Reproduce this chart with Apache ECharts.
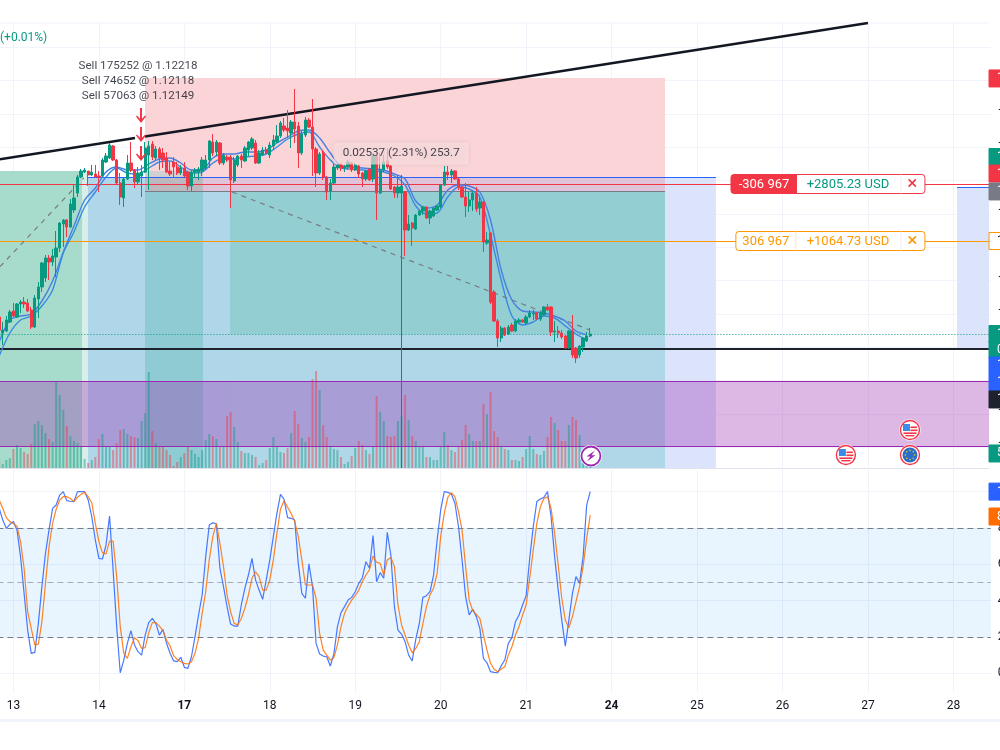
<!DOCTYPE html>
<html>
<head>
<meta charset="utf-8">
<title>EURUSD 1h</title>
<style>
  html, body { margin: 0; padding: 0; background: #fff; overflow: hidden; }
  #chart { width: 1000px; height: 750px; }
</style>
<script src="https://cdn.jsdelivr.net/npm/echarts@6/dist/echarts.min.js"></script>
</head>
<body>
<div id="chart"></div>
<script>
const dayLabels = ['13', '14', '17', '18', '19', '20', '21', '24', '25', '26', '27', '28']
const barsPerDay = 24
const firstDayBar = 4
const barCount = 279

const openPrice = [
  1.09455,1.09215,1.09245,1.0938,1.09545,1.09455,1.0965,1.0968,1.09665,1.0956,
  1.09305,1.09725,1.09905,1.1004,1.1034,1.1028,1.10355,1.1049,1.1085,1.1091,
  1.10805,1.1106,1.11315,1.11555,1.1163,1.11645,1.11585,1.116,1.1157,1.1157,
  1.1178,1.1184,1.1202,1.1181,1.11465,1.1124,1.11525,1.11765,1.1166,1.1148,
  1.1157,1.1163,1.11885,1.1205,1.1184,1.11975,1.11915,1.1184,1.11645,1.1178,
  1.11705,1.11615,1.1169,1.1163,1.1142,1.1163,1.1163,1.11645,1.1169,1.1181,
  1.1208,1.1193,1.12065,1.11765,1.11855,1.11855,1.11495,1.11735,1.1187,1.11795,
  1.1196,1.1199,1.12065,1.11765,1.11885,1.1196,1.11885,1.1202,1.1208,1.1217,
  1.1232,1.1229,1.12215,1.1238,1.1232,1.11915,1.12185,1.1241,1.12305,1.11975,
  1.11615,1.11915,1.11555,1.11345,1.11465,1.1169,1.11735,1.1169,1.11705,1.11765,
  1.1166,1.1172,1.11615,1.11525,1.11675,1.11525,1.1187,1.11315,1.1166,1.11795,
  1.1172,1.11405,1.11315,1.11315,1.1133,1.1076,1.10865,1.10775,1.10985,1.11045,
  1.11105,1.1094,1.1097,1.1106,1.11105,1.11435,1.1163,1.11585,1.11645,1.11525,
  1.11405,1.11255,1.1112,1.1121,1.11315,1.1109,1.1118,1.10565,1.10715,1.0983,
  1.09395,1.0914,1.0929,1.092,1.09335,1.09245,1.0938,1.0941,1.09365,1.09455,
  1.095,1.09515,1.09425,1.09485,1.09605,1.09605,1.0923,1.09245,1.09215,1.0917,
  1.0899,1.09245,1.0899,1.08885,1.09005,1.09095,1.0917
]
const closePrice = [
  1.0926,1.0926,1.0941,1.0953,1.0947,1.0965,1.0968,1.0965,1.09545,1.09305,
  1.0974,1.09905,1.10265,1.1034,1.1028,1.1037,1.1049,1.10865,1.1091,1.10805,
  1.1115,1.1124,1.11555,1.11645,1.1166,1.11585,1.1163,1.11555,1.11555,1.1181,
  1.1187,1.12035,1.1181,1.11465,1.11255,1.11525,1.11765,1.1166,1.1148,1.11615,
  1.1163,1.1199,1.1202,1.11855,1.11975,1.1184,1.1181,1.1163,1.116,1.11705,
  1.11615,1.1169,1.1157,1.1142,1.1163,1.1166,1.11675,1.1181,1.1181,1.12095,
  1.11915,1.1208,1.11765,1.11885,1.1181,1.1151,1.1181,1.1187,1.1181,1.1199,
  1.1208,1.12125,1.11765,1.11915,1.1196,1.11915,1.12035,1.1211,1.1217,1.12365,
  1.1226,1.12245,1.1238,1.12275,1.11915,1.122,1.1241,1.12305,1.11975,1.11615,
  1.119,1.11555,1.1133,1.11465,1.11705,1.11735,1.1169,1.1172,1.1178,1.1166,
  1.11735,1.116,1.11525,1.11645,1.1151,1.1187,1.11315,1.1166,1.1178,1.11705,
  1.11375,1.11315,1.11405,1.1142,1.1076,1.1085,1.1079,1.10985,1.11045,1.11105,
  1.1094,1.11045,1.1109,1.1112,1.11435,1.1163,1.11585,1.11645,1.11525,1.11405,
  1.11255,1.1112,1.1121,1.11315,1.11075,1.1118,1.1058,1.1061,1.0968,1.09395,
  1.0914,1.0929,1.09185,1.09305,1.09245,1.09395,1.0941,1.0938,1.09455,1.09515,
  1.09515,1.09425,1.09515,1.09605,1.0956,1.0923,1.09245,1.09215,1.09155,1.0899,
  1.09245,1.08885,1.0884,1.0902,1.0914,1.0917,1.092
]
const lowPrice = [
  1.0923,1.09035,1.0923,1.09365,1.09455,1.0944,1.09515,1.0959,1.0953,1.09275,
  1.0929,1.0944,1.0983,1.0998,1.1001,1.1022,1.10055,1.1043,1.10505,1.10655,
  1.1079,1.11015,1.11255,1.1154,1.11615,1.1142,1.1157,1.1154,1.1133,1.11555,
  1.11765,1.11825,1.11795,1.1145,1.11135,1.11105,1.1151,1.1163,1.1139,1.1145,
  1.11255,1.11615,1.1136,1.1181,1.1181,1.1166,1.1169,1.11615,1.1157,1.1154,
  1.11585,1.11585,1.11555,1.1136,1.11345,1.1154,1.1151,1.1157,1.1166,1.1169,
  1.1187,1.1187,1.11735,1.11735,1.1178,1.1109,1.11465,1.11705,1.1169,1.1178,
  1.1187,1.1196,1.1175,1.1175,1.1187,1.119,1.1184,1.1196,1.12065,1.1214,
  1.1223,1.1214,1.1199,1.12065,1.1169,1.11885,1.12155,1.1229,1.1157,1.11405,
  1.11585,1.1151,1.1121,1.1121,1.1145,1.1166,1.11645,1.1163,1.1166,1.1163,
  1.11645,1.1154,1.11405,1.11495,1.11495,1.1148,1.1091,1.113,1.1163,1.11675,
  1.1136,1.1124,1.1124,1.11225,1.1037,1.10745,1.1052,1.1076,1.1097,1.10985,
  1.10925,1.1085,1.10955,1.11045,1.1109,1.1142,1.1151,1.11465,1.1151,1.1136,
  1.1124,1.10955,1.1103,1.11045,1.1103,1.10985,1.1043,1.10535,1.0965,1.0938,
  1.09005,1.0908,1.0917,1.09185,1.0923,1.0923,1.09365,1.09365,1.09335,1.0944,
  1.0941,1.0941,1.09395,1.0947,1.09545,1.0917,1.0908,1.0914,1.09125,1.08975,
  1.08975,1.0884,1.08765,1.0884,1.0893,1.0908,1.09155
]
const highPrice = [
  1.0947,1.0938,1.0947,1.0956,1.09665,1.09665,1.0971,1.09755,1.09725,1.09605,
  1.09785,1.0998,1.1028,1.10385,1.10385,1.10475,1.10745,1.1088,1.10925,1.10925,
  1.11225,1.11435,1.11585,1.11675,1.1169,1.11645,1.11735,1.11735,1.11645,1.1184,
  1.11915,1.12065,1.12035,1.11825,1.11615,1.1154,1.11885,1.1208,1.11675,1.11705,
  1.11735,1.1208,1.12095,1.12095,1.1202,1.12005,1.1199,1.1193,1.1178,1.11855,
  1.1178,1.11735,1.1178,1.11645,1.1166,1.1169,1.11705,1.11855,1.11885,1.1211,
  1.122,1.1211,1.1208,1.11915,1.11885,1.11885,1.11855,1.11885,1.119,1.1202,
  1.12095,1.12155,1.1211,1.1196,1.12005,1.12005,1.1208,1.12185,1.12335,1.12395,
  1.1244,1.1256,1.1241,1.12875,1.1238,1.1226,1.12455,1.1244,1.12725,1.12005,
  1.1193,1.1196,1.1157,1.11525,1.1175,1.11765,1.11765,1.11735,1.1181,1.1178,
  1.11765,1.11735,1.1163,1.1166,1.1169,1.11885,1.11885,1.11915,1.11885,1.1199,
  1.11735,1.1142,1.11585,1.11585,1.11345,1.10985,1.1088,1.11,1.1106,1.1112,
  1.1112,1.1106,1.11105,1.11135,1.11435,1.1172,1.1172,1.11675,1.1166,1.1154,
  1.1142,1.11465,1.1133,1.11345,1.11405,1.11255,1.11195,1.1073,1.1073,1.0986,
  1.09425,1.0932,1.09305,1.09335,1.09365,1.09425,1.0944,1.09425,1.09485,1.0956,
  1.0956,1.0953,1.0953,1.0962,1.0965,1.0962,1.09395,1.0932,1.0926,1.09185,
  1.0926,1.09485,1.09005,1.09035,1.09155,1.0923,1.0929
]
const volume = [
  6,4,8,10,19,23,20,16,14,24,
  44,47,43,35,29,26,86,73,58,42,
  32,27,25,21,9,5,8,11,29,34,
  21,21,18,25,38,39,34,32,31,30,
  47,55,96,37,25,21,21,18,13,2,
  6,11,15,21,18,14,11,18,28,34,
  32,29,22,21,52,56,41,26,17,15,
  15,13,11,3,5,8,20,31,21,16,
  15,20,35,57,44,30,26,31,89,97,
  78,43,31,21,19,18,11,4,6,12,
  20,27,23,18,14,21,72,56,47,32,
  31,32,47,52,73,48,32,27,21,21,
  11,11,8,8,21,36,23,18,16,21,
  28,43,34,27,27,27,64,54,76,37,
  31,21,19,18,8,8,7,11,19,32,
  19,14,13,17,31,51,45,38,27,27,
  43,51,48,33,5,4,3
]
// ribbon
const maStep = 3
const maFast = [
  1.0908,1.0941,1.0947,1.095,1.09695,1.09995,1.1043,1.1082,1.1121,1.1139,
  1.1163,1.11705,1.1166,1.1166,1.1175,1.11825,1.1184,1.11765,1.1166,1.1166,
  1.1184,1.119,1.119,1.1193,1.1193,1.1196,1.12065,1.12155,1.12245,1.1226,
  1.1214,1.11915,1.1172,1.11705,1.1169,1.11675,1.1166,1.116,1.11525,1.11195,
  1.1109,1.11135,1.1136,1.11435,1.1142,1.1133,1.1091,1.1016,1.0971,1.09545,
  1.0953,1.09515,1.0947,1.09395,1.09245,1.09185
]
const maSlow = [
  1.0887,1.09215,1.0941,1.0947,1.0962,1.0986,1.10415,1.1073,1.11105,1.1133,
  1.11555,1.1169,1.11615,1.116,1.1169,1.1178,1.11795,1.11705,1.11615,1.1163,
  1.11765,1.1184,1.11825,1.11855,1.1187,1.119,1.12005,1.12125,1.122,1.1223,
  1.12005,1.1181,1.1169,1.11675,1.1166,1.11645,1.1163,1.1157,1.11435,1.1112,
  1.11,1.11015,1.11255,1.11405,1.11375,1.11255,1.10685,1.1001,1.0947,1.09335,
  1.0938,1.0947,1.0944,1.0932,1.092,1.0911
]
const stochK = [
  90.8,84.4,79.8,82,83.5,78.9,64.2,44,23.8,11,
  11.5,27.5,47.7,66,78.9,90.8,92.6,98.1,100,95,
  94.7,94.5,100,100,100,95.4,86.2,73.4,63.3,62.9,
  70.6,86.6,56.8,25.7,0.3,7.3,16.5,23.5,15.6,11.9,
  10,21,27.9,30.2,27.5,21,24.2,16.5,11,6.8,
  6.4,8.8,3.3,2.7,9.1,20.2,32.1,43.1,64.2,81.6,
  82.9,82.2,57.8,47.7,36.7,27.1,26,26,37.6,46.8,
  54.1,63.3,51.4,45.8,40.7,51.4,62.4,75.2,88,98.5,
  95.8,85.7,85.3,84.4,60.5,44,41.3,60.2,47.7,16.5,
  10.6,9.5,9.1,4,10.6,25.7,33.4,36.7,40.3,41.8,
  44.9,49.5,52.6,61.4,57.8,75.8,50.4,55.4,52.3,77.6,
  65.1,36.7,23.8,21.6,17.4,10,6.8,18.7,27.5,41.8,
  42.7,44.9,54.1,73.4,89.9,100,99.6,98.7,93.6,80.7,
  62.4,42.2,32.1,35.2,31.2,24.7,8.2,5.8,0.9,0.5,
  0.3,4.2,7.3,16.5,19.6,28.4,32.1,37.6,42.7,63.3,
  80.7,94.5,95.9,96.9,100,86.2,64.2,45.8,29.3,15,
  29.3,44,53.2,49.5,64.2,92.6,100
]
const stochD = [
  95.4,90.8,85.7,83.5,82.5,81,72.5,57.8,33.9,24.7,
  15.6,16.1,28.4,49.5,69.7,82.5,90.3,95.4,97.2,97.2,
  96.2,94.5,96.9,98.5,99.6,97.2,93.9,82.5,72.5,66.4,
  65.7,72.8,72.8,53.2,25.7,11,8.2,14.6,19.6,18,
  13.7,14.1,22.4,27.9,27.9,26,23.5,18.3,15,9.7,
  7.7,6.4,5.5,5.1,6.4,11,19.2,33,44.9,62.4,
  75.2,82.5,71.5,58.7,43.1,33.9,27.5,26.6,30.2,35.8,
  43.1,52.3,55.9,53.2,45.8,45.8,51.4,62.4,77,90.3,
  95,91.4,88,83.5,75.2,62.4,48.6,48.6,48.6,41.3,
  22,12.8,10,7.3,8.6,15.6,25.7,33,37,40.3,
  42.7,45.8,50.4,54.1,56.9,64.6,61.1,60.5,54.1,62.4,
  63.8,58.7,37.6,26.6,21.1,15.6,11.3,13.7,17.4,27.5,
  36.7,43.1,46.8,55,75.2,88,96.9,99.4,97.2,89,
  78.9,58.7,40.3,34.5,32.4,30.2,21.1,12.8,5.5,2.2,
  0.9,2.4,3.6,10,14.6,21.1,25.7,32.1,37.6,52.3,
  67.9,82.5,91.7,96.3,97.2,90.8,77,59.6,41.3,29.3,
  25.1,31.2,39.4,47.7,58.7,74.3,87.1
]
const priceTicks = { min: 1.07, max: 1.13865, step: 0.005 }
const stochLevels = [80, 50, 20]
const sellFills = ['Sell 175252 @ 1.12218', 'Sell 74652 @ 1.12118', 'Sell 57063 @ 1.12149']
const sellFillPrices = [1.1322, 1.12995, 1.1277]
const arrowPrices = [1.12477, 1.12192, 1.11907]
const measureText = '0.02537 (2.31%) 253.7'

const UP = '#089981'
const DOWN = '#F23645'
const FONT = 'Roboto, "Liberation Sans", sans-serif'
const fullWidth = 278.5

const categories = []
for (let i = 0; i < barCount; i++) {
  categories.push((i - firstDayBar) % barsPerDay === 0 ? dayLabels[(i - firstDayBar) / barsPerDay] : '')
}
const isDayBar = function (i) {
  return (i - firstDayBar) % barsPerDay === 0
}

// box x values are in bars, y values in price
const zones = [
  [0, 1.11645, 23.76, 1.0719, '#A7DCCD'],
  [23.76, 1.11645, 25.44, 1.0719, '#D8EEE9'],
  [25.44, 1.11555, 41.45, 1.0719, '#B0D6E9'],
  [41.45, 1.1304, 187.5, 1.11345, '#FAD4D7'],
  [57.74, 1.11555, 187.5, 1.11345, '#DFC3D9'],
  [41.45, 1.11645, 57.74, 1.11555, '#D2CFD2'],
  [41.45, 1.11555, 57.74, 1.11345, '#BDB8BE'],
  [41.45, 1.11345, 57.74, 1.0719, '#8FCBD3'],
  [57.74, 1.11345, 65.33, 1.0719, '#B0D6E9'],
  [65.33, 1.11345, 187.5, 1.092, '#93CED3'],
  [65.33, 1.092, 187.5, 1.0719, '#B0D7E7'],
  [187.5, 1.11555, 201.8, 1.0719, '#DCE4FB'],
  [269.5, 1.11405, fullWidth, 1.08975, '#DCE4FB'],
  [0, 1.08495, fullWidth, 1.07513, 'rgba(156,39,176,0.33)']
]
const drawings = [
  [25.44, 1.11555, 201.8, 1.11555, '#2962FF', 1],
  [269.5, 1.11405, fullWidth, 1.11405, '#2962FF', 1],
  [0, 1.11443, fullWidth, 1.11443, '#F23645', 1],
  [41.45, 1.11345, 187.5, 1.11345, '#787B86', 1],
  [0, 1.10588, fullWidth, 1.10588, '#FF9800', 1],
  [0, 1.092, fullWidth, 1.092, '#089981', 1, [1, 2]],
  [0, 1.08975, fullWidth, 1.08975, '#1E222D', 2],
  [0, 1.08495, fullWidth, 1.08495, '#9C27B0', 1],
  [0, 1.07513, fullWidth, 1.07513, '#9C27B0', 1],
  [113.4, 1.1157, 113.4, 1.0719, '#2962FF', 1],
  [0.73, 1.11821, 38.64, 1.1214, '#131722', 2.5],
  [41.45, 1.12163, 244.5, 1.13865, '#131722', 2.5],
  [0.73, 1.1021, 24.3, 1.11543, '#787B86', 1.2, [5, 5]],
  [65.9, 1.1133, 166.4, 1.0926, '#787B86', 1.2, [5, 5]]
]
const orderPills = [
  { from: 206.03, to: 260.5, price: 1.11443, size: '-306 967', pnl: '+2805.23 USD', color: '#F23645', pnlColor: '#089981', filled: true, left: 66 },
  { from: 207.4, to: 260.5, price: 1.10588, size: '306 967', pnl: '+1064.73 USD', color: '#FF9800', pnlColor: '#FF9800', filled: false, left: 60 }
]
const priceTags = [
  [1.13033, '1.13033', '#F23645', '#fff'],
  [1.11855, '1.11855', '#089981', '#fff'],
  [1.11607, '1.11607', '#F23645', '#fff'],
  [1.11338, '1.11338', '#787B86', '#fff'],
  [1.10595, '1.10595', '#fff', '#131722', '#FF9800'],
  [1.092, '1.09200', '#089981', '#fff'],
  [1.08967, '07:29', '#089981', '#fff'],
  [1.08728, '1.08728', '#2962FF', '#fff'],
  [1.08473, '1.08473', '#2962FF', '#fff'],
  [1.08218, '1.08218', '#1E222D', '#fff'],
  [1.07408, '5.26K', '#089981', '#fff']
]
const stochTags = [
  [100, '100.00', '#2962FF', '#fff'],
  [86.3, '87.07', '#FF6D00', '#fff']
]
const events = [
  [166.7, 1.0737, 'bolt'],
  [238.3, 1.07385, 'us'],
  [256.3, 1.0776, 'us'],
  [256.3, 1.07385, 'eu']
]

function shapes (name, z, rows, draw, yAxisIndex, xAxisIndex) {
  return {
    type: 'custom',
    name: name,
    z: z,
    silent: true,
    clip: false,
    xAxisIndex: xAxisIndex === undefined ? 1 : xAxisIndex,
    yAxisIndex: yAxisIndex || 0,
    data: rows.map(function (r, i) { return [i, 0] }),
    renderItem: function (params, api) {
      return draw(rows[params.dataIndex], api)
    }
  }
}

function drawZone (z, api) {
  const a = api.coord([z[0], z[1]])
  const b = api.coord([z[2], z[3]])
  return { type: 'rect', shape: { x: a[0], y: a[1], width: b[0] - a[0], height: b[1] - a[1] }, style: { fill: z[4] } }
}

// keep level lines on whole pixels so they stay crisp
function snap (v, width) {
  return width % 2 === 1 ? Math.floor(v) + 0.5 : Math.round(v)
}

function drawLine (d, api) {
  const a = api.coord([d[0], d[1]])
  const b = api.coord([d[2], d[3]])
  if (d[1] === d[3]) {
    a[1] = b[1] = snap(a[1], d[5])
  }
  if (d[0] === d[2]) {
    a[0] = b[0] = snap(a[0], d[5])
  }
  return {
    type: 'line',
    shape: { x1: a[0], y1: a[1], x2: b[0], y2: b[1] },
    style: { stroke: d[4], lineWidth: d[5], lineDash: d[6] || null }
  }
}

function label (text, x, y, fill, size, weight) {
  return {
    type: 'text',
    style: { text: text, x: x, y: y, fill: fill, fontSize: size, fontWeight: weight || 400, fontFamily: FONT, align: 'center', verticalAlign: 'middle' }
  }
}

function drawPill (o, api) {
  const a = api.coord([o.from, o.price])
  const b = api.coord([o.to, o.price])
  const h = 19
  const top = Math.floor(a[1] - h / 2) + 0.5
  const kids = [{ type: 'rect', shape: { x: a[0], y: top, width: b[0] - a[0], height: h, r: 3 }, style: { fill: '#fff', stroke: o.color, lineWidth: 1 } }]
  if (o.filled) {
    kids.push({ type: 'rect', shape: { x: a[0], y: top, width: o.left, height: h, r: [3, 0, 0, 3] }, style: { fill: o.color } })
  } else {
    kids.push({ type: 'line', shape: { x1: a[0] + o.left, y1: top, x2: a[0] + o.left, y2: top + h }, style: { stroke: '#FCE5C5', lineWidth: 1 } })
  }
  kids.push({ type: 'line', shape: { x1: b[0] - 24, y1: top, x2: b[0] - 24, y2: top + h }, style: { stroke: '#EFEFEF', lineWidth: 1 } })
  kids.push(label(o.size, a[0] + o.left / 2, a[1], o.filled ? '#fff' : o.color, 13))
  kids.push(label(o.pnl, b[0] - 77, a[1], o.pnlColor, 13))
  kids.push(label('×', b[0] - 12.5, a[1], o.color, 19))
  return { type: 'group', children: kids }
}

function drawTag (t, api) {
  const p = api.coord([fullWidth, t[0]])
  return {
    type: 'group',
    children: [
      { type: 'rect', shape: { x: p[0], y: p[1] - 8.5, width: 14, height: 17 }, style: { fill: t[2], stroke: t[4] || t[2], lineWidth: 1 } },
      { type: 'text', style: { text: t[1], x: p[0] + 8, y: p[1], fill: t[3], fontSize: 12, fontFamily: FONT, align: 'left', verticalAlign: 'middle' } }
    ]
  }
}

function drawEvent (e, api) {
  const p = api.coord([e[0], e[1]])
  const x = p[0]
  const y = p[1]
  const kids = []
  if (e[2] === 'bolt') {
    kids.push({ type: 'circle', shape: { cx: x, cy: y, r: 11 }, style: { fill: '#fff' } })
    kids.push({ type: 'circle', shape: { cx: x, cy: y, r: 9.5 }, style: { fill: '#fff', stroke: '#9C27B0', lineWidth: 1.8 } })
    kids.push({ type: 'polygon', shape: { points: [[x + 4, y - 5.5], [x - 4.5, y + 0.5], [x - 0.5, y + 0.5], [x - 4, y + 5.5], [x + 4.5, y - 0.8], [x + 0.5, y - 0.8]] }, style: { fill: '#9C27B0' } })
    return { type: 'group', children: kids }
  }
  kids.push({ type: 'circle', shape: { cx: x, cy: y, r: 10.5 }, style: { fill: '#fff', stroke: '#fff', lineWidth: 0.5 } })
  kids.push({ type: 'circle', shape: { cx: x, cy: y, r: 9.5 }, style: { fill: '#fff', stroke: '#F23645', lineWidth: 1.4 } })
  if (e[2] === 'eu') {
    kids.push({ type: 'circle', shape: { cx: x, cy: y, r: 7.5 }, style: { fill: '#2A6DC4' } })
    for (let a = 0; a < 8; a++) {
      const t = a * Math.PI / 4
      kids.push({ type: 'circle', shape: { cx: x + 4.6 * Math.cos(t), cy: y + 4.6 * Math.sin(t), r: 0.8 }, style: { fill: '#E8C93A' } })
    }
  } else {
    kids.push({ type: 'rect', shape: { x: x - 7, y: y - 6, width: 7, height: 7 }, style: { fill: '#3C8BE8' } })
    kids.push({ type: 'rect', shape: { x: x + 0.5, y: y - 3.5, width: 6.5, height: 1.6 }, style: { fill: '#F23645' } })
    kids.push({ type: 'rect', shape: { x: x + 0.5, y: y - 0.5, width: 7, height: 1.6 }, style: { fill: '#F23645' } })
    kids.push({ type: 'rect', shape: { x: x - 6.5, y: y + 2.4, width: 13, height: 1.6 }, style: { fill: '#F23645' } })
    kids.push({ type: 'rect', shape: { x: x - 4.5, y: y + 5, width: 9, height: 1.4 }, style: { fill: '#F23645' } })
  }
  return { type: 'group', children: kids }
}

const candleData = openPrice.map(function (o, i) {
  return [o, closePrice[i], lowPrice[i], highPrice[i]]
})
const volumeData = volume.map(function (v, i) {
  return { value: v, itemStyle: { color: closePrice[i] >= openPrice[i] ? 'rgba(8,153,129,0.45)' : 'rgba(242,54,69,0.45)' } }
})
const ribbon = function (list) {
  return list.map(function (v, i) { return [i * maStep, v] })
}
const hiddenX = function (gridIndex) {
  return { type: 'category', gridIndex: gridIndex, data: categories, show: false }
}
const pane = function (top, height) {
  return { left: -2.6, top: top, width: 993.4, height: height, outerBoundsMode: 'none', containLabel: false }
}

const chart = echarts.init(document.getElementById('chart'))
chart.setOption({
  animation: false,
  backgroundColor: '#fff',
  textStyle: { fontFamily: FONT },
  grid: [pane(23, 457.67), pane(360, 108), pane(468, 205.3), pane(23, 669)],
  xAxis: [
    hiddenX(0),
    { type: 'value', gridIndex: 0, min: 0, max: barCount, show: false },
    hiddenX(1),
    hiddenX(2),
    {
      type: 'category',
      gridIndex: 3,
      data: categories,
      axisLine: { show: false },
      axisTick: { show: false },
      axisLabel: {
        interval: function (i) { return isDayBar(i) },
        margin: 8,
        fontSize: 12,
        color: '#131722',
        formatter: function (v) {
          return v === '17' || v === '24' ? '{b|' + v + '}' : v
        },
        rich: { b: { fontWeight: 700, fontSize: 12, color: '#131722' } }
      },
      splitLine: {
        show: true,
        alignWithLabel: true,
        interval: function (i) { return isDayBar(i) },
        lineStyle: { color: '#F0F3FA', width: 1 }
      }
    },
    { type: 'value', gridIndex: 2, min: 0, max: barCount, show: false }
  ],
  yAxis: [
    {
      type: 'value',
      gridIndex: 0,
      position: 'right',
      min: priceTicks.min,
      max: priceTicks.max,
      interval: priceTicks.step,
      axisLine: { show: false },
      axisTick: { show: false },
      axisLabel: {
        margin: 7,
        fontSize: 12,
        color: '#131722',
        showMinLabel: false,
        showMaxLabel: false,
        formatter: function (v) { return v > 1.13 ? '' : v.toFixed(5) }
      },
      splitLine: { showMinLine: false, showMaxLine: false, lineStyle: { color: '#F0F3FA' } }
    },
    { type: 'value', gridIndex: 1, min: 0, max: 108, show: false },
    {
      type: 'value',
      gridIndex: 2,
      position: 'right',
      min: 0,
      max: 113,
      interval: 20,
      axisLine: { show: false },
      axisTick: { show: false },
      axisLabel: {
        margin: 7,
        fontSize: 12,
        color: '#131722',
        showMaxLabel: false,
        formatter: function (v) { return v.toFixed(2) }
      },
      splitLine: { showMaxLine: false, lineStyle: { color: '#F0F3FA' } }
    },
    { type: 'value', gridIndex: 3, min: 0, max: 1, show: false }
  ],
  series: [
    shapes('zones', 1, zones, drawZone),
    {
      type: 'bar',
      name: 'Volume',
      xAxisIndex: 2,
      yAxisIndex: 1,
      z: 2,
      barWidth: 2,
      data: volumeData
    },
    shapes('drawings', 3, drawings, drawLine),
    {
      type: 'line',
      name: 'MA fast',
      xAxisIndex: 0,
      yAxisIndex: 0,
      z: 4,
      smooth: 0.3,
      showSymbol: false,
      lineStyle: { color: '#4A7FE0', width: 1.4 },
      data: ribbon(maFast)
    },
    {
      type: 'line',
      name: 'MA slow',
      xAxisIndex: 0,
      yAxisIndex: 0,
      z: 4,
      smooth: 0.3,
      showSymbol: false,
      lineStyle: { color: '#3A8BE0', width: 1.4 },
      data: ribbon(maSlow)
    },
    {
      type: 'candlestick',
      name: 'EURUSD',
      xAxisIndex: 0,
      yAxisIndex: 0,
      z: 5,
      barWidth: 2.8,
      itemStyle: { color: UP, color0: DOWN, borderColor: UP, borderColor0: DOWN, borderWidth: 1 },
      data: candleData
    },
    {
      type: 'scatter',
      name: 'Sell arrows',
      xAxisIndex: 1,
      yAxisIndex: 0,
      z: 6,
      symbol: 'path://M4 0h2v10l3-3 1 1-5 6-5-6 1-1 3 3z',
      symbolSize: [10, 15],
      itemStyle: { color: '#F23645', opacity: 1 },
      data: arrowPrices.map(function (p) { return [40.33, p] })
    },
    {
      type: 'scatter',
      name: 'Sell fills',
      xAxisIndex: 1,
      yAxisIndex: 0,
      z: 6,
      symbolSize: 1,
      itemStyle: { color: 'transparent' },
      label: {
        show: true,
        position: 'inside',
        fontSize: 11.6,
        color: '#131722',
        fontFamily: FONT,
        formatter: function (p) { return sellFills[p.dataIndex] }
      },
      data: sellFillPrices.map(function (p) { return [39.5, p] })
    },
    {
      type: 'scatter',
      name: 'Measure',
      xAxisIndex: 1,
      yAxisIndex: 0,
      z: 6,
      symbolSize: 1,
      itemStyle: { color: 'transparent' },
      label: {
        show: true,
        position: 'inside',
        fontSize: 11.7,
        color: '#131722',
        fontFamily: FONT,
        backgroundColor: 'rgba(253,224,226,0.85)',
        borderRadius: 3,
        padding: [5, 9],
        shadowColor: 'rgba(0,0,0,0.12)',
        shadowBlur: 5,
        formatter: measureText
      },
      data: [[113.4, 1.11907]]
    },
    shapes('orders', 7, orderPills, drawPill),
    shapes('events', 7, events, drawEvent),
    shapes('tags', 8, priceTags, drawTag),
    {
      type: 'line',
      name: '%K',
      xAxisIndex: 3,
      yAxisIndex: 2,
      z: 4,
      showSymbol: false,
      lineStyle: { color: '#2962FF', width: 1.2, opacity: 0.85 },
      markArea: {
        silent: true,
        itemStyle: { color: 'rgba(33,150,243,0.1)' },
        data: [[{ yAxis: 20 }, { yAxis: 80 }]]
      },
      markLine: {
        silent: true,
        symbol: 'none',
        label: { show: false },
        lineStyle: { color: '#787B86', type: [6, 4], width: 1 },
        data: stochLevels.map(function (v) {
          return v === 50 ? { yAxis: v, lineStyle: { color: 'rgba(120,123,134,0.6)' } } : { yAxis: v }
        })
      },
      data: stochK
    },
    {
      type: 'line',
      name: '%D',
      xAxisIndex: 3,
      yAxisIndex: 2,
      z: 4,
      showSymbol: false,
      lineStyle: { color: '#FF6D00', width: 1.2, opacity: 0.85 },
      data: stochD
    },
    shapes('stoch tags', 8, stochTags, drawTag, 2, 5)
  ],
  graphic: [
    { type: 'text', left: 0, top: 32, z: 10, style: { text: '(+0.01%)', fill: '#089981', fontSize: 12, fontFamily: FONT } },
    { type: 'rect', left: 0, top: 22.5, z: 0, shape: { width: 989, height: 1 }, style: { fill: '#F0F3FA' } },
    { type: 'rect', left: 0, top: 468, z: 0, shape: { width: 989, height: 1 }, style: { fill: '#E0E3EB' } },
    { type: 'rect', left: 0, top: 719, z: 0, shape: { width: 1000, height: 3 }, style: { fill: '#F0F3FA' } }
  ]
})
</script>
</body>
</html>
